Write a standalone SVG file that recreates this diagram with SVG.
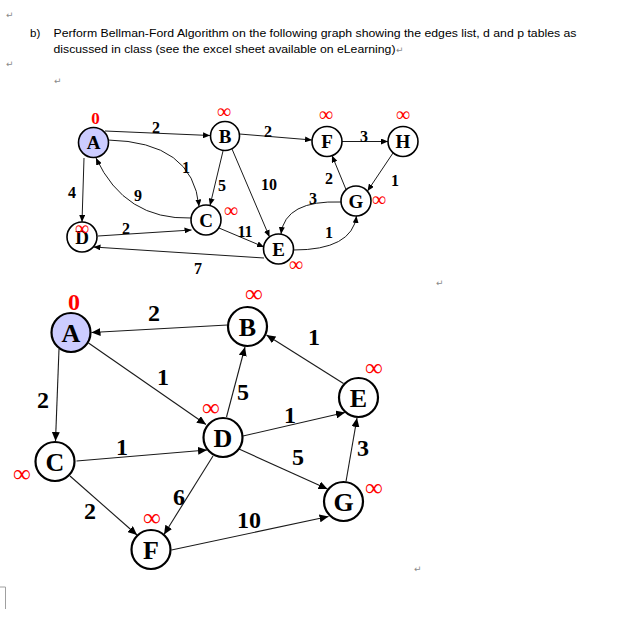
<svg xmlns="http://www.w3.org/2000/svg" width="623" height="627" viewBox="0 0 623 627">
<style>
.hdr{font-family:"Liberation Sans",Arial,sans-serif;font-size:11.5px;fill:#000}
.ret{font-family:"DejaVu Sans",sans-serif;font-size:9px;fill:#8a8a8a}
.n1{fill:#fff;stroke:#000;stroke-width:1.6}
.n2{fill:#fff;stroke:#000;stroke-width:2.2}
.src{fill:#ccccff}
.l1{font-family:"Liberation Serif","Times New Roman",serif;font-weight:bold;font-size:19px;text-anchor:middle}
.l2{font-family:"Liberation Serif","Times New Roman",serif;font-weight:bold;font-size:26px;text-anchor:middle}
.w1{font-family:"Liberation Serif","Times New Roman",serif;font-weight:bold;font-size:16px;text-anchor:middle}
.w2{font-family:"Liberation Serif","Times New Roman",serif;font-weight:bold;font-size:24px;text-anchor:middle}
.inf1{font-family:"Liberation Serif","Times New Roman",serif;font-size:20px;fill:#ff0000;text-anchor:middle}
.inf2{font-family:"Liberation Serif","Times New Roman",serif;font-size:25px;fill:#ff0000;text-anchor:middle}
.z1{font-family:"Liberation Serif","Times New Roman",serif;font-weight:bold;font-size:17px;fill:#ff0000;text-anchor:middle}
.z2{font-family:"Liberation Serif","Times New Roman",serif;font-weight:bold;font-size:24px;fill:#ff0000;text-anchor:middle}
.e1{fill:none;stroke:#1a1a1a;stroke-width:1;marker-end:url(#a1)}
.e2{fill:none;stroke:#1a1a1a;stroke-width:1.1;marker-end:url(#a2)}
</style>
<defs>
<marker id="a1" markerUnits="userSpaceOnUse" markerWidth="8" markerHeight="6" refX="7" refY="3" orient="auto"><path d="M0,0 L7,3 L0,6 Z" fill="#000"/></marker>
<marker id="a2" markerUnits="userSpaceOnUse" markerWidth="10" markerHeight="8" refX="9" refY="4" orient="auto"><path d="M0,0 L9,4 L0,8 Z" fill="#000"/></marker>
</defs>

<g id="page">
<text class="ret" x="6" y="18">↵</text>
<text class="hdr" x="30" y="36.5">b)</text>
<text class="hdr" x="53.5" y="36.5" textLength="523" lengthAdjust="spacingAndGlyphs">Perform Bellman-Ford Algorithm on the following graph showing the edges list, d and p tables as</text>
<text class="hdr" x="53.5" y="53" textLength="342" lengthAdjust="spacingAndGlyphs">discussed in class (see the excel sheet available on eLearning)</text>
<text class="ret" x="396" y="53">↵</text>
<text class="ret" x="6" y="67">↵</text>
<text class="ret" x="54" y="84">↵</text>
<text class="ret" x="436" y="286">↵</text>
<text class="ret" x="414" y="572">↵</text>
<path d="M0,587 H5.5 V609" fill="none" stroke="#a0a0a0" stroke-width="1"/>
</g>

<g id="connectors">
<!-- top graph -->
<path class="e1" d="M105,131 L210,135.5"/>
<path class="e1" d="M108,140 Q193,142 199,206.5"/>
<path class="e1" d="M191,218 Q125,220 96,158"/>
<path class="e1" d="M84,158 L82,222"/>
<path class="e1" d="M98,236 L191.5,230"/>
<path class="e1" d="M264,258 L93.5,247"/>
<path class="e1" d="M223,151 L210,205.5"/>
<path class="e1" d="M232,149 L269.5,237"/>
<path class="e1" d="M219,228 L264,247"/>
<path class="e1" d="M239.5,134 L312,140"/>
<path class="e1" d="M342,141.5 L388,141.5"/>
<path class="e1" d="M393,153 L367.5,191"/>
<path class="e1" d="M346,189.5 L332,155.5"/>
<path class="e1" d="M341,202 Q285,200 281,234"/>
<path class="e1" d="M293.5,250 Q352,250 356.5,216"/>
<!-- bottom graph -->
<path class="e2" d="M227.5,325 L91.5,332.5"/>
<path class="e2" d="M88.5,343 L206,424.5"/>
<path class="e2" d="M59,349 L55.5,441"/>
<path class="e2" d="M76.5,461 L207,450"/>
<path class="e2" d="M70,476 L137,535"/>
<path class="e2" d="M213,456 L164,534.5"/>
<path class="e2" d="M226.5,417 L245,347"/>
<path class="e2" d="M343.5,383.5 L266.5,335"/>
<path class="e2" d="M243,436 L345,412.5"/>
<path class="e2" d="M239,449 L327.5,489"/>
<path class="e2" d="M346,481.5 L357,418"/>
<path class="e2" d="M171.5,550 L328.5,516.5"/>
</g>

<g id="weights">
<text class="w1" x="156" y="132.5">2</text>
<text class="w1" x="186" y="172.5">1</text>
<text class="w1" x="138" y="200.5">9</text>
<text class="w1" x="72" y="197.5">4</text>
<text class="w1" x="126" y="233.5">2</text>
<text class="w1" x="198" y="273.5">7</text>
<text class="w1" x="222" y="190.5">5</text>
<text class="w1" x="269" y="189.5">10</text>
<text class="w1" x="245" y="236.5">11</text>
<text class="w1" x="268" y="136.5">2</text>
<text class="w1" x="364" y="141.5">3</text>
<text class="w1" x="395" y="185.5">1</text>
<text class="w1" x="329" y="183.5">2</text>
<text class="w1" x="313" y="203.5">3</text>
<text class="w1" x="329" y="237.5">1</text>

<text class="w2" x="154" y="321">2</text>
<text class="w2" x="163" y="385">1</text>
<text class="w2" x="43" y="408">2</text>
<text class="w2" x="122" y="455">1</text>
<text class="w2" x="90" y="519">2</text>
<text class="w2" x="179" y="505">6</text>
<text class="w2" x="243" y="400">5</text>
<text class="w2" x="314" y="345">1</text>
<text class="w2" x="290" y="423">1</text>
<text class="w2" x="298" y="465">5</text>
<text class="w2" x="363" y="456">3</text>
<text class="w2" x="249" y="528">10</text>
</g>

<!-- top graph nodes -->
<g id="tA"><circle class="n1 src" cx="93.5" cy="142.5" r="15"/><text class="l1" x="93.5" y="149">A</text><text class="z1" x="95.5" y="124">0</text></g>
<g id="tB"><circle class="n1" cx="225" cy="136" r="14.5"/><text class="l1" x="225" y="142.5">B</text><text class="inf1" x="224" y="118">∞</text></g>
<g id="tC"><circle class="n1" cx="206" cy="220" r="15"/><text class="l1" x="206" y="226.5">C</text><text class="inf1" x="231" y="217">∞</text></g>
<g id="tD"><circle class="n1" cx="82" cy="237" r="15"/><text class="l1" x="82" y="243.5">D</text><text class="inf1" x="82" y="235">∞</text></g>
<g id="tE"><circle class="n1" cx="278.5" cy="249" r="15"/><text class="l1" x="278.5" y="255.5">E</text><text class="inf1" x="296" y="271">∞</text></g>
<g id="tF"><circle class="n1" cx="327" cy="141.5" r="15"/><text class="l1" x="327" y="148">F</text><text class="inf1" x="326" y="121">∞</text></g>
<g id="tG"><circle class="n1" cx="356" cy="201" r="15"/><text class="l1" x="356" y="207.5">G</text><text class="inf1" x="379" y="206">∞</text></g>
<g id="tH"><circle class="n1" cx="403" cy="141.5" r="15"/><text class="l1" x="403" y="148">H</text><text class="inf1" x="403" y="121">∞</text></g>

<!-- bottom graph nodes -->
<g id="bA"><circle class="n2 src" cx="71" cy="332.5" r="19.5"/><text class="l2" x="71" y="341.5">A</text><text class="z2" x="74" y="310">0</text></g>
<g id="bB"><circle class="n2" cx="247.5" cy="326.5" r="19.5"/><text class="l2" x="247.5" y="335.5">B</text><text class="inf2" x="254" y="302">∞</text></g>
<g id="bC"><circle class="n2" cx="55" cy="461.5" r="19.5"/><text class="l2" x="55" y="470.5">C</text><text class="inf2" x="22" y="482">∞</text></g>
<g id="bD"><circle class="n2" cx="223" cy="437.5" r="19.5"/><text class="l2" x="223" y="446.5">D</text><text class="inf2" x="211" y="416">∞</text></g>
<g id="bE"><circle class="n2" cx="358.5" cy="397.5" r="19.5"/><text class="l2" x="358.5" y="406.5">E</text><text class="inf2" x="374" y="376">∞</text></g>
<g id="bF"><circle class="n2" cx="151" cy="549.5" r="19.5"/><text class="l2" x="151" y="558.5">F</text><text class="inf2" x="152" y="526">∞</text></g>
<g id="bG"><circle class="n2" cx="343.5" cy="501.5" r="19.5"/><text class="l2" x="343.5" y="510.5">G</text><text class="inf2" x="374" y="496">∞</text></g>
</svg>
